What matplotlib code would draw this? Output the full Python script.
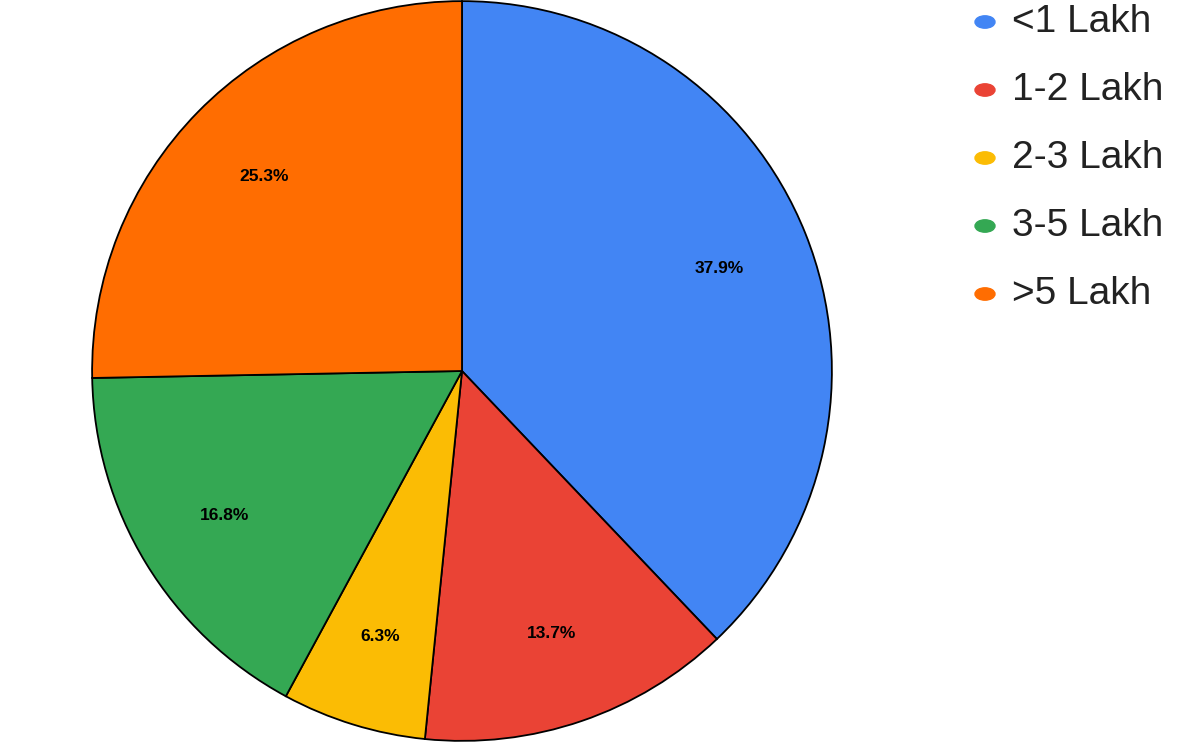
import matplotlib
matplotlib.use("Agg")
import matplotlib.pyplot as plt

plt.rcParams['font.family'] = ['Liberation Sans', 'DejaVu Sans']

labels = ['<1 Lakh', '1-2 Lakh', '2-3 Lakh', '3-5 Lakh', '>5 Lakh']
shares = [37.9, 13.7, 6.3, 16.8, 25.3]
colors = ['#4285f4', '#ea4335', '#fbbc04', '#34a853', '#ff6d01']

fig = plt.figure(figsize=(12, 7.42), dpi=100)
ax = fig.add_axes([(462 - 372) / 1200, 0, 744 / 1200, 1])
ax.pie(shares, colors=colors, startangle=90, counterclock=False,
       autopct='%.1f%%', pctdistance=0.75,
       wedgeprops=dict(edgecolor='black', linewidth=1.3),
       textprops=dict(fontsize=12.5, fontweight='bold', color='black'))
ax.set_aspect('equal')
ax.set_xlim(-1.003, 1.003)
ax.set_ylim(-1.003, 1.003)

# legend drawn by hand to match the spacing
for i, (lab, col) in enumerate(zip(labels, colors)):
    y = 1 - (22 + 68 * i) / 742
    fig.patches.append(plt.Circle((985 / 1200, y), 10 / 1200, color=col,
                                  transform=fig.transFigure, figure=fig))
    fig.text(1012 / 1200, y, lab, fontsize=28, va='center', ha='left', color='#222222')

fig.savefig('out.png', dpi=100)
